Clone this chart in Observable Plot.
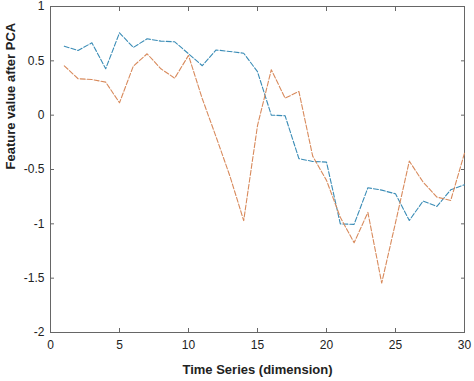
<!DOCTYPE html>
<html>
<head>
<meta charset="utf-8">
<script src="https://cdn.jsdelivr.net/npm/d3@7"></script>
<script src="https://cdn.jsdelivr.net/npm/@observablehq/plot@0.6"></script>
<style>
  html, body { margin: 0; padding: 0; background: #fff; }
  #chart svg { display: block; }
</style>
</head>
<body>
<div id="chart"></div>
<script>
const xs = [1,2,3,4,5,6,7,8,9,10,11,12,13,14,15,16,17,18,19,20,21,22,23,24,25,26,27,28,29,30];
const blueVals = [0.635,0.595,0.666,0.427,0.758,0.623,0.703,0.681,0.675,0.565,0.455,0.600,0.586,0.570,0.400,0.000,-0.005,-0.400,-0.426,-0.432,-1.000,-1.005,-0.668,-0.690,-0.724,-0.969,-0.790,-0.840,-0.687,-0.640];
const orangeVals = [0.454,0.335,0.328,0.304,0.114,0.451,0.565,0.427,0.340,0.550,0.151,-0.200,-0.560,-0.970,-0.096,0.418,0.157,0.218,-0.377,-0.600,-0.940,-1.174,-0.895,-1.545,-0.990,-0.423,-0.616,-0.754,-0.785,-0.350];
const xTicks = [0,5,10,15,20,25,30];
const yTicks = [-2,-1.5,-1,-0.5,0,0.5,1];
const series = ["PC1","PC2"];
const colors = ["#3a8cb6","#d88a5c"];

const data = [];
xs.forEach((x,i) => {
  data.push({x, y: blueVals[i], s: series[0]});
  data.push({x, y: orangeVals[i], s: series[1]});
});

const axisColor = "#666";
const chart = Plot.plot({
  width: 474,
  height: 381,
  marginLeft: 50,
  marginRight: 10,
  marginTop: 6,
  marginBottom: 49,
  style: {fontFamily: "Liberation Sans, Arial, sans-serif", fontSize: "12px", color: "#222", background: "#fff"},
  x: {domain: [0,30]},
  y: {domain: [-2,1]},
  color: {domain: series, range: colors},
  marks: [
    Plot.frame({stroke: axisColor}),
    Plot.axisX({ticks: xTicks, tickSize: -4, tickPadding: 12, stroke: axisColor, color: "#222", fontSize: 12, label: null}),
    Plot.axisX({anchor: "top", ticks: xTicks, tickSize: -4, tickFormat: () => "", stroke: axisColor, label: null}),
    Plot.axisY({ticks: yTicks, tickSize: -4, tickPadding: 10, stroke: axisColor, color: "#222", fontSize: 12, label: null, tickFormat: d => String(d)}),
    Plot.axisY({anchor: "right", ticks: yTicks, tickSize: -4, tickFormat: () => "", stroke: axisColor, label: null}),
    Plot.line(data, {x: "x", y: "y", z: "s", stroke: "s", strokeWidth: 1.1, strokeDasharray: "5,2"}),
    Plot.text(["Time Series (dimension)"], {frameAnchor: "bottom", dy: 41, text: d => d, fontSize: 13, fontWeight: "bold", fill: "#222"}),
    Plot.text(["Feature value after PCA"], {frameAnchor: "left", dx: -40, rotate: -90, text: d => d, fontSize: 13, fontWeight: "bold", fill: "#222"})
  ]
});
document.getElementById("chart").appendChild(chart);
</script>
</body>
</html>
